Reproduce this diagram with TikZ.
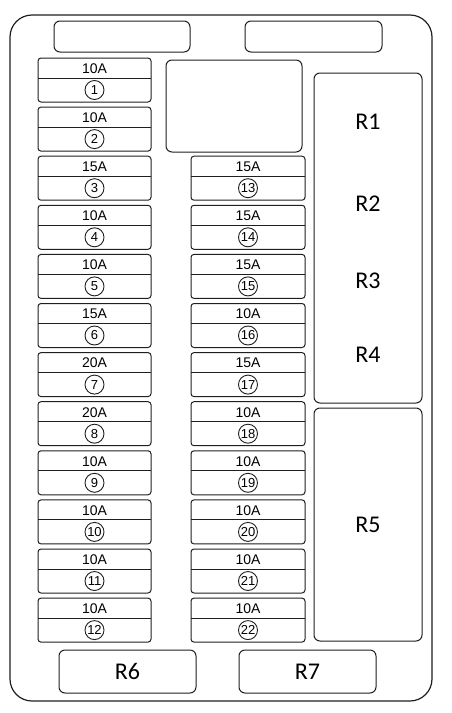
\documentclass[tikz,border=0pt]{standalone}
\usepackage{fontspec}
\setmainfont{Liberation Sans}
\newfontfamily\calfont{Carlito}
\begin{document}
\begin{tikzpicture}[x=1pt,y=-1pt,
  line color/.style={draw=black!88},
  fusebox/.style={line color, line width=1pt, rounded corners=3pt, minimum height=44pt, inner sep=0pt},
  ampl/.style={font=\fontsize{14}{14}\selectfont, inner sep=0pt},
  numc/.style={circle, line color, line width=0.9pt, minimum size=19pt, inner sep=0pt, font=\fontsize{13}{13}\selectfont},
  relaybox/.style={line color, line width=1pt, rounded corners=6pt, inner sep=0pt},
  rlabel/.style={font=\calfont\fontsize{24}{24}\selectfont, inner sep=0pt}]
\useasboundingbox (0,0) rectangle (451,713);
% outer housing
\draw[line color, line width=1.2pt, rounded corners=22pt] (10,15) rectangle (432,701);
% top slots
\node[relaybox, minimum width=136pt, minimum height=31pt] (slotL) at (122,36.5) {};
\node[relaybox, minimum width=137pt, minimum height=31pt] (slotR) at (313.5,36.5) {};
% blank box
\node[relaybox, minimum width=136pt, minimum height=92pt] (blank) at (234,106) {};
% left fuses
\foreach \n/\a [count=\i] in {1/10,2/10,3/15,4/10,5/10,6/15,7/20,8/20,9/10,10/10,11/10,12/10}{
  \pgfmathsetmacro\yt{58+(\i-1)*49.1}
  \node[fusebox, minimum width=113pt] (f\n) at (94.5,\yt+22) {};
  \draw[line color, line width=1pt] (38,\yt+20) -- (151,\yt+20);
  \node[ampl] (a\n) at (94.5,\yt+10.5) {\a A};
  \node[numc, draw] (c\n) at (94.5,\yt+32) {\n};
}
% right fuses
\foreach \n/\a [count=\i from 3] in {13/15,14/15,15/15,16/10,17/15,18/10,19/10,20/10,21/10,22/10}{
  \pgfmathsetmacro\yt{58+(\i-1)*49.1}
  \node[fusebox, minimum width=114pt] (f\n) at (248,\yt+22) {};
  \draw[line color, line width=1pt] (191,\yt+20) -- (305,\yt+20);
  \node[ampl] (a\n) at (248,\yt+10.5) {\a A};
  \node[numc, draw] (c\n) at (248,\yt+32) {\n};
}
% relays
\node[relaybox, minimum width=108pt, minimum height=330pt] (R14) at (368,238) {};
\node[rlabel] (r1) at (368,122) {R1};
\node[rlabel] (r2) at (368,204) {R2};
\node[rlabel] (r3) at (368,281) {R3};
\node[rlabel] (r4) at (368,355) {R4};
\node[relaybox, minimum width=108pt, minimum height=233pt] (R5) at (368,524.5) {};
\node[rlabel] (r5) at (368,524.5) {R5};
\node[relaybox, minimum width=137pt, minimum height=43pt] (R6) at (127.5,671.5) {};
\node[rlabel] (r6) at (127.5,671.5) {R6};
\node[relaybox, minimum width=137pt, minimum height=43pt] (R7) at (307.5,671.5) {};
\node[rlabel] (r7) at (307.5,671.5) {R7};
\end{tikzpicture}
\end{document}
